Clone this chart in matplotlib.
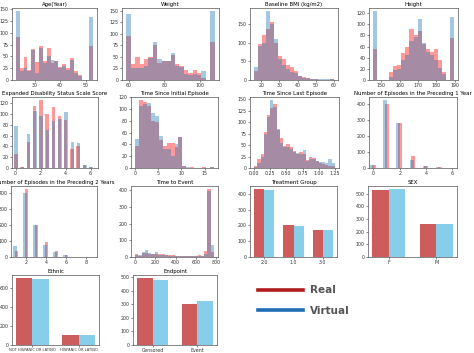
"""
Real vs Virtual: distribución de las variables de la cohorte
"""

import numpy as np
import matplotlib
matplotlib.use('Agg')
import matplotlib.pyplot as plt
from matplotlib.lines import Line2D

# ---- Histogramas continuos (conteos por bin) ----
age_bins = (22.5, 53.0, 20)
age_real = [90, 25, 48, 22, 65, 38, 72, 40, 68, 37, 40, 28, 33, 25, 47, 18, 10, 0, 0, 72]
age_virt = [145, 20, 25, 20, 63, 15, 68, 35, 50, 42, 40, 25, 30, 22, 43, 15, 8, 0, 0, 133]

weight_bins = (58.5, 108.5, 20)
weight_real = [95, 35, 49, 35, 45, 50, 75, 36, 42, 40, 53, 35, 30, 22, 15, 22, 16, 5, 0, 83]
weight_virt = [142, 25, 25, 25, 30, 48, 82, 45, 40, 40, 58, 30, 28, 12, 10, 12, 10, 20, 0, 148]

bmi_bins = (16.0, 60.0, 20)
bmi_real = [25, 95, 120, 135, 155, 100, 65, 55, 40, 35, 25, 12, 8, 5, 3, 2, 1, 1, 1, 3]
bmi_virt = [35, 90, 100, 183, 150, 110, 55, 40, 30, 22, 18, 10, 6, 6, 3, 3, 2, 2, 2, 4]

height_bins = (145.5, 189.5, 20)
height_real = [55, 0, 0, 0, 15, 25, 27, 48, 60, 92, 80, 88, 65, 55, 50, 55, 35, 15, 0, 75]
height_virt = [123, 0, 0, 0, 5, 18, 20, 35, 45, 70, 78, 110, 67, 50, 45, 35, 22, 10, 0, 113]

tsi_bins = (0.0, 17.0, 20)
tsi_real = [38, 115, 112, 105, 80, 78, 48, 38, 43, 43, 35, 53, 3, 0, 1, 0, 0, 1, 0, 1]
tsi_virt = [50, 105, 108, 110, 93, 88, 55, 33, 32, 20, 40, 52, 3, 1, 0, 0, 0, 0, 0, 1]

tsl_bins = (0.0, 1.25, 25)
tsl_real = [5, 20, 30, 78, 115, 130, 140, 82, 65, 48, 52, 45, 38, 30, 35, 30, 18, 25, 22, 15, 10, 8, 6, 5, 5]
tsl_virt = [3, 10, 25, 75, 110, 147, 132, 85, 55, 45, 45, 42, 35, 32, 30, 40, 15, 20, 20, 15, 12, 12, 10, 20, 10]

tte_bins = (0.0, 780.0, 24)
tte_real = [15, 8, 25, 25, 20, 18, 15, 15, 15, 12, 12, 10, 8, 8, 6, 6, 8, 5, 5, 10, 8, 35, 405, 30]
tte_virt = [10, 10, 30, 40, 25, 20, 30, 12, 10, 10, 8, 8, 5, 6, 5, 6, 5, 4, 5, 8, 6, 20, 395, 70]

# ---- Histogramas de valores discretos ----
edss_vals = [0, 0.5, 1, 1.5, 2, 2.5, 3, 3.5, 4, 4.5, 5, 5.5, 6]
edss_real = [25, 2, 48, 115, 125, 100, 112, 97, 88, 35, 40, 6, 2]
edss_virt = [77, 1, 62, 105, 97, 70, 86, 90, 104, 48, 47, 6, 2]

ep1_vals = [0, 1, 2, 3, 4, 5]
ep1_real = [20, 405, 285, 78, 15, 5]
ep1_virt = [20, 425, 285, 50, 15, 5]

ep2_vals = [1, 2, 3, 4, 5, 6, 7, 8]
ep2_real = [35, 420, 200, 95, 35, 15, 3, 1]
ep2_virt = [70, 395, 200, 75, 30, 10, 3, 1]

# ---- Variables categóricas ----
treat_cats = ['2.0', '1.0', '3.0']
treat_real = [428, 200, 168]
treat_virt = [422, 198, 172]

sex_cats = ['F', 'M']
sex_real = [532, 265]
sex_virt = [535, 262]

ethnic_cats = ['NOT HISPANIC OR LATINO', 'HISPANIC OR LATINO']
ethnic_real = [697, 103]
ethnic_virt = [695, 103]

endpoint_cats = ['Censored', 'Event']
endpoint_real = [490, 305]
endpoint_virt = [475, 320]

W, H = 474, 353
TICK_FS = 3.4
TITLE_FS = 3.9


def crear_ejes(fig, izq, der, arriba, abajo):
    """Crea un eje a partir de su caja en pixeles"""
    ax = fig.add_axes([izq / W, 1 - abajo / H, (der - izq) / W, (abajo - arriba) / H])
    for s in ax.spines.values():
        s.set_linewidth(0.5)
        s.set_color('#555555')
    ax.tick_params(labelsize=TICK_FS, length=1.5, width=0.4, pad=1, colors='#333333')
    return ax


def hist_continuo(ax, titulo, bins, real, virt, yticks, xticks):
    edges = np.linspace(bins[0], bins[1], bins[2] + 1)
    ax.hist(edges[:-1], bins=edges, weights=real, color='red', alpha=0.4)
    ax.hist(edges[:-1], bins=edges, weights=virt, color='tab:blue', alpha=0.4)
    ax.set_title(titulo, fontsize=TITLE_FS, pad=1.5)
    ax.set_yticks(yticks)
    ax.set_xticks(xticks)


def hist_discreto(ax, titulo, vals, real, virt, ancho, off_r, off_v, yticks, xticks, xlim):
    x = np.array(vals, dtype=float)
    ax.bar(x + off_r, real, ancho, align='edge', color='red', alpha=0.4)
    ax.bar(x + off_v, virt, ancho, align='edge', color='tab:blue', alpha=0.4)
    ax.set_title(titulo, fontsize=TITLE_FS, pad=1.5)
    ax.set_yticks(yticks)
    ax.set_xticks(xticks)
    ax.set_xlim(xlim)


def barras(ax, titulo, cats, real, virt, yticks):
    x = np.arange(len(cats))
    w = 0.35
    ax.bar(x - w / 2, real, w, color='#CD5C5C')
    ax.bar(x + w / 2, virt, w, color='#87CEEB')
    ax.set_xticks(x)
    ax.set_xticklabels(cats)
    ax.set_yticks(yticks)
    ax.set_title(titulo, fontsize=TITLE_FS, pad=1.5)


fig = plt.figure(figsize=(W / 100, H / 100), dpi=100)

# Fila 1
ax = crear_ejes(fig, 12, 97, 8, 80)
hist_continuo(ax, 'Age(Year)', age_bins, age_real, age_virt, range(0, 151, 25), [30, 40, 50])
ax = crear_ejes(fig, 122, 219, 8, 80)
hist_continuo(ax, 'Weight', weight_bins, weight_real, weight_virt, range(0, 151, 25), [60, 80, 100])
ax = crear_ejes(fig, 250, 338, 8, 80)
hist_continuo(ax, 'Baseline BMI (kg/m2)', bmi_bins, bmi_real, bmi_virt, [0, 50, 100, 150], [20, 30, 40, 50, 60])
ax = crear_ejes(fig, 369, 458, 8, 80)
hist_continuo(ax, 'Height', height_bins, height_real, height_virt, range(0, 121, 20), [150, 160, 170, 180, 190])

# Fila 2
ax = crear_ejes(fig, 12, 98, 97, 168)
hist_discreto(ax, 'Expanded Disability Status Scale Score', edss_vals, edss_real, edss_virt,
              0.28, -0.13, -0.1, range(0, 121, 20), [0, 2, 4, 6], (-0.3, 6.6))
ax = crear_ejes(fig, 131, 218, 97, 168)
hist_continuo(ax, 'Time Since Initial Episode', tsi_bins, tsi_real, tsi_virt, range(0, 121, 20), [0, 5, 10, 15])
ax = crear_ejes(fig, 250, 339, 97, 168)
hist_continuo(ax, 'Time Since Last Episode', tsl_bins, tsl_real, tsl_virt, range(0, 151, 25),
              [0.0, 0.25, 0.5, 0.75, 1.0, 1.25])
ax.set_xticklabels(['0.00', '0.25', '0.50', '0.75', '1.00', '1.25'])
ax = crear_ejes(fig, 369, 457, 97, 168)
hist_discreto(ax, 'Number of Episodes in the Preceding 1 Year', ep1_vals, ep1_real, ep1_virt,
              0.3, -0.12, -0.25, range(0, 401, 100), [0, 2, 4, 6], (-0.33, 6.35))

# Fila 3
ax = crear_ejes(fig, 11, 97, 186, 257)
hist_discreto(ax, 'Number of Episodes in the Preceding 2 Years', ep2_vals, ep2_real, ep2_virt,
              0.33, -0.1, -0.27, range(0, 401, 100), [2, 4, 6, 8], (0.5, 9.1))
ax = crear_ejes(fig, 131, 218, 186, 257)
hist_continuo(ax, 'Time to Event', tte_bins, tte_real, tte_virt, range(0, 401, 100), [0, 200, 400, 600, 800])
ax = crear_ejes(fig, 250, 337, 186, 257)
barras(ax, 'Treatment Group', treat_cats, treat_real, treat_virt, range(0, 401, 100))
ax = crear_ejes(fig, 368, 457, 186, 257)
barras(ax, 'SEX', sex_cats, sex_real, sex_virt, range(0, 501, 100))

# Fila 4
ax = crear_ejes(fig, 12, 99, 275, 345)
barras(ax, 'Ethnic', ethnic_cats, ethnic_real, ethnic_virt, [0, 200, 400, 600])
ax.tick_params(axis='x', labelsize=2.6)
ax = crear_ejes(fig, 133, 217, 275, 345)
barras(ax, 'Endpoint', endpoint_cats, endpoint_real, endpoint_virt, range(0, 501, 100))

# Leyenda
handles = [Line2D([], [], color='#B01C1C', lw=2.6),
           Line2D([], [], color='#1F6DB5', lw=2.6)]
fig.legend(handles, ['Real', 'Virtual'], loc='center left', bbox_to_anchor=(258 / W, 1 - 300.5 / H),
           frameon=False, borderpad=0, borderaxespad=0, handlelength=4.3, handletextpad=0.7,
           labelspacing=1.0, prop={'weight': 'bold', 'size': 7.5}, labelcolor='#555555')

plt.savefig('out.png', dpi=100)
